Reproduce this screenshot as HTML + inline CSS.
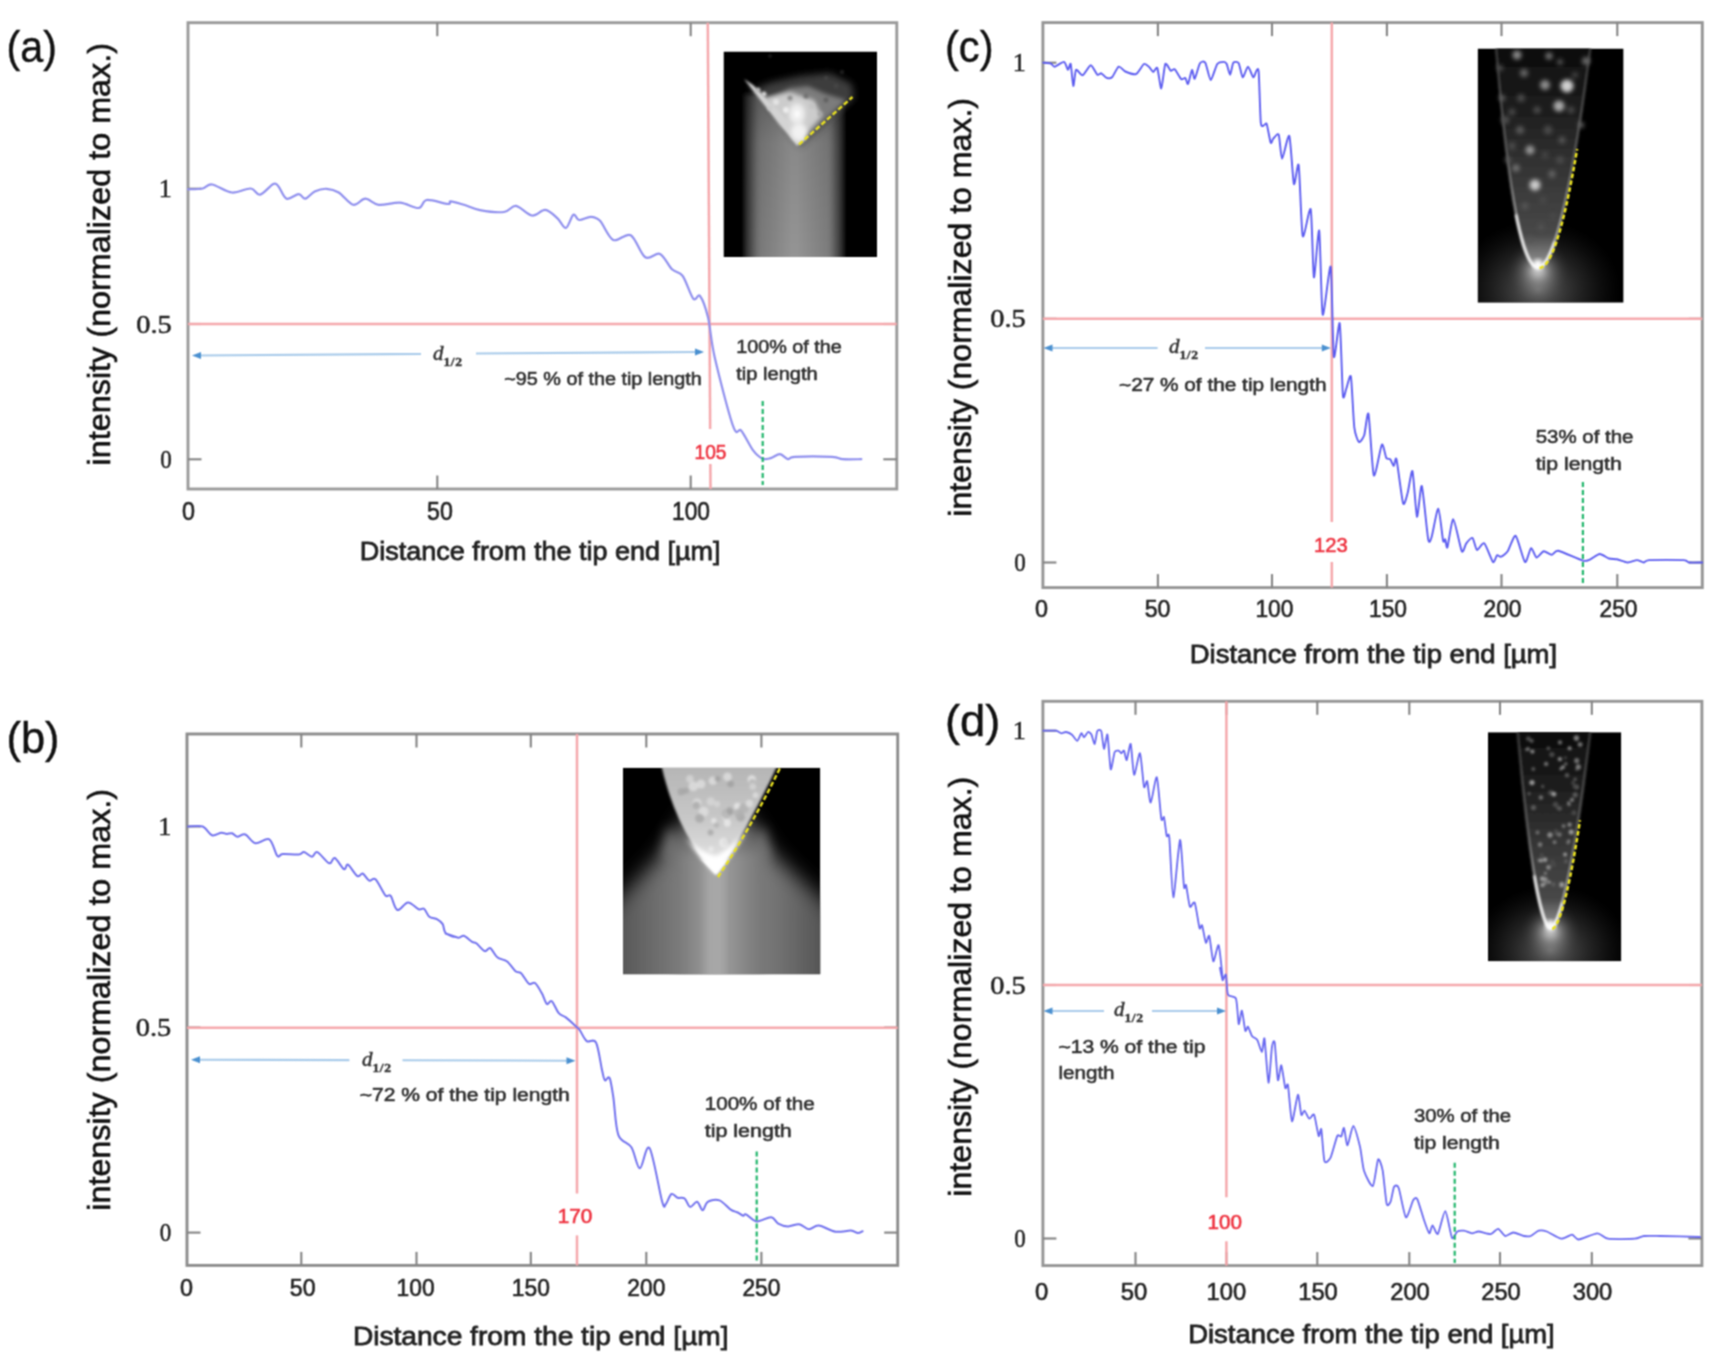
<!DOCTYPE html>
<html><head><meta charset="utf-8"><title>Figure</title>
<style>html,body{margin:0;padding:0;background:#fff}svg{display:block}</style></head><body>
<svg width="1725" height="1360" viewBox="0 0 1725 1360">
<defs>
<filter id="soft" x="0" y="0" width="1725" height="1360" filterUnits="userSpaceOnUse" color-interpolation-filters="sRGB"><feConvolveMatrix order="3" kernelMatrix="1 2 1 2 4 2 1 2 1" divisor="16" edgeMode="duplicate" preserveAlpha="false"/></filter>
<filter id="bs" x="-10%" y="-10%" width="120%" height="120%"><feGaussianBlur stdDeviation="1.3"/></filter>
<filter id="bs2" x="-10%" y="-10%" width="120%" height="120%"><feGaussianBlur stdDeviation="2.2"/></filter>
<filter id="b1" x="-20%" y="-20%" width="140%" height="140%"><feGaussianBlur stdDeviation="1"/></filter>
<filter id="b2" x="-20%" y="-20%" width="140%" height="140%"><feGaussianBlur stdDeviation="2"/></filter>
<filter id="b3" x="-30%" y="-30%" width="160%" height="160%"><feGaussianBlur stdDeviation="3.5"/></filter>
<filter id="b6" x="-30%" y="-30%" width="160%" height="160%"><feGaussianBlur stdDeviation="6"/></filter>
<filter id="b10" x="-40%" y="-40%" width="180%" height="180%"><feGaussianBlur stdDeviation="10"/></filter>
<clipPath id="clipA"><rect x="723.5" y="51.5" width="153.5" height="205.5"/></clipPath>
<clipPath id="clipB"><rect x="623" y="767.7" width="197.3" height="206.5"/></clipPath>
<clipPath id="clipC"><rect x="1477.6" y="48.5" width="146" height="254.2"/></clipPath>
<clipPath id="clipD"><rect x="1488" y="732.2" width="133.3" height="229.1"/></clipPath>
<linearGradient id="beamA" x1="0" x2="1" y1="0" y2="0"><stop offset="0" stop-color="#000"/><stop offset="0.06" stop-color="#3c3c3c"/><stop offset="0.16" stop-color="#787878"/><stop offset="0.5" stop-color="#969696"/><stop offset="0.84" stop-color="#7c7c7c"/><stop offset="0.94" stop-color="#3c3c3c"/><stop offset="1" stop-color="#000"/></linearGradient>
<linearGradient id="beamAv" x1="0" x2="0" y1="0" y2="1"><stop offset="0" stop-color="#000" stop-opacity="0.25"/><stop offset="0.3" stop-color="#000" stop-opacity="0.08"/><stop offset="1" stop-color="#000" stop-opacity="0"/></linearGradient>
<radialGradient id="glowA" cx="0.5" cy="0.5" r="0.5"><stop offset="0" stop-color="#fff" stop-opacity="1"/><stop offset="0.5" stop-color="#eee" stop-opacity="0.8"/><stop offset="1" stop-color="#ccc" stop-opacity="0"/></radialGradient>
<linearGradient id="beamB" x1="0" x2="1" y1="0" y2="0"><stop offset="0" stop-color="#747474"/><stop offset="0.25" stop-color="#8c8c8c"/><stop offset="0.47" stop-color="#a2a2a2"/><stop offset="0.7" stop-color="#8e8e8e"/><stop offset="1" stop-color="#747474"/></linearGradient>
<linearGradient id="wingB" x1="0" x2="1" y1="0" y2="0"><stop offset="0" stop-color="#4c4c4c"/><stop offset="0.3" stop-color="#787878"/><stop offset="0.7" stop-color="#787878"/><stop offset="1" stop-color="#484848"/></linearGradient>
<linearGradient id="tipB" x1="0" x2="0" y1="0" y2="1"><stop offset="0" stop-color="#b4b4b4"/><stop offset="0.5" stop-color="#c8c8c8"/><stop offset="0.85" stop-color="#e0e0e0"/><stop offset="1" stop-color="#fafafa"/></linearGradient>
<radialGradient id="glowC" cx="0.5" cy="0.5" r="0.5"><stop offset="0" stop-color="#fff" stop-opacity="0.95"/><stop offset="0.18" stop-color="#eee" stop-opacity="0.7"/><stop offset="0.45" stop-color="#bbb" stop-opacity="0.38"/><stop offset="0.75" stop-color="#999" stop-opacity="0.14"/><stop offset="1" stop-color="#777" stop-opacity="0"/></radialGradient>
<radialGradient id="glowW" cx="0.5" cy="0.5" r="0.5"><stop offset="0" stop-color="#999" stop-opacity="0.7"/><stop offset="0.3" stop-color="#777" stop-opacity="0.48"/><stop offset="0.65" stop-color="#555" stop-opacity="0.26"/><stop offset="1" stop-color="#333" stop-opacity="0"/></radialGradient>
<linearGradient id="tipC" x1="0" x2="0" y1="0" y2="1"><stop offset="0" stop-color="#0c0c0c"/><stop offset="0.3" stop-color="#1e1e1e"/><stop offset="0.55" stop-color="#343434"/><stop offset="0.85" stop-color="#484848"/><stop offset="1" stop-color="#999"/></linearGradient>
<linearGradient id="edgeC" x1="0" x2="0" y1="0" y2="1"><stop offset="0" stop-color="#4a4a4a"/><stop offset="0.5" stop-color="#777"/><stop offset="0.8" stop-color="#ccc"/><stop offset="1" stop-color="#fff"/></linearGradient>
</defs>

<rect width="1725" height="1360" fill="#fff"/>
<g filter="url(#soft)">
<g id="panel-a">
<rect x="188" y="22.7" width="708.8" height="466.3" fill="none" stroke="#9a9a9a" stroke-width="2.9"/>
<line x1="437.3" y1="489" x2="437.3" y2="475.5" stroke="#848484" stroke-width="2.1"/>
<line x1="437.3" y1="22.7" x2="437.3" y2="36.2" stroke="#848484" stroke-width="2.1"/>
<line x1="690.7" y1="489" x2="690.7" y2="475.5" stroke="#848484" stroke-width="2.1"/>
<line x1="690.7" y1="22.7" x2="690.7" y2="36.2" stroke="#848484" stroke-width="2.1"/>
<line x1="188" y1="188.7" x2="201.5" y2="188.7" stroke="#848484" stroke-width="2.1"/>
<line x1="188" y1="324" x2="201.5" y2="324" stroke="#848484" stroke-width="2.1"/>
<line x1="896.8" y1="324" x2="883.3" y2="324" stroke="#848484" stroke-width="2.1"/>
<line x1="188" y1="459.3" x2="201.5" y2="459.3" stroke="#848484" stroke-width="2.1"/>
<line x1="896.8" y1="459.3" x2="883.3" y2="459.3" stroke="#848484" stroke-width="2.1"/>
<line x1="188" y1="324" x2="896.8" y2="324" stroke="#f5a8ac" stroke-width="2.5"/>
<line x1="707.8" y1="22.7" x2="710.15" y2="429" stroke="#f5a8ac" stroke-width="2.5"/>
<line x1="710.36" y1="464" x2="710.5" y2="489" stroke="#f5a8ac" stroke-width="2.5"/>
<path d="M188.0,189.3 C190.4,189.2 198.9,189.3 202.7,188.5 C206.5,187.7 207.3,183.9 212.0,184.5 C216.7,185.1 225.8,191.9 232.0,192.5 C238.2,193.1 246.2,188.1 250.7,188.5 C255.2,188.9 256.4,195.4 260.0,194.7 C263.6,194.0 270.3,185.3 273.3,184.0 C276.3,182.7 276.6,184.3 278.7,186.7 C280.8,189.1 283.5,197.5 286.7,198.7 C289.9,199.9 295.7,194.1 298.7,194.1 C301.7,194.1 302.7,199.1 305.3,198.7 C307.9,198.3 311.3,193.1 314.7,191.5 C318.1,189.9 322.9,188.6 326.7,188.8 C330.5,189.0 334.4,189.9 338.7,192.5 C343.0,195.1 349.0,203.8 353.3,204.8 C357.6,205.8 361.2,198.7 365.3,198.7 C369.4,198.7 373.1,204.2 378.7,204.8 C384.3,205.4 393.6,202.2 400.0,202.7 C406.4,203.2 414.4,208.4 418.7,208.0 C423.0,207.6 422.0,200.6 426.7,200.0 C431.4,199.4 444.2,203.8 448.0,204.0 C451.8,204.2 448.1,201.2 450.7,201.3 C453.3,201.4 459.3,203.4 464.0,204.8 C468.7,206.2 473.6,208.9 480.0,210.1 C486.4,211.3 498.2,212.7 504.0,212.0 C509.8,211.3 511.5,205.3 516.0,205.9 C520.5,206.5 527.3,214.9 532.0,215.5 C536.7,216.1 541.3,209.5 545.3,209.9 C549.3,210.3 554.0,215.2 557.3,218.1 C560.6,221.0 563.3,228.5 565.9,228.0 C568.5,227.5 571.2,216.0 573.3,214.7 C575.4,213.4 576.4,219.7 579.2,220.0 C582.0,220.3 587.4,216.7 590.7,216.8 C594.0,216.9 596.4,217.1 600.0,220.8 C603.6,224.5 608.4,237.7 613.3,240.0 C618.2,242.3 625.6,232.4 630.7,235.2 C635.8,238.0 640.6,254.3 645.3,257.3 C650.0,260.3 655.7,252.0 660.0,253.9 C664.3,255.8 668.4,265.8 672.0,269.3 C675.6,272.8 679.3,271.3 682.7,276.0 C686.1,280.7 690.5,295.5 693.3,298.7 C696.1,301.9 697.6,293.0 700.0,296.0 C702.4,299.0 705.6,307.5 708.0,317.3 C710.4,327.1 710.7,339.8 714.7,357.3 C718.7,374.8 729.0,415.0 733.3,426.7 C737.6,438.4 738.1,426.9 741.3,430.7 C744.5,434.5 749.9,446.2 753.3,450.7 C756.7,455.2 759.9,457.5 762.7,458.7 C765.5,459.9 767.9,458.8 770.7,458.1 C773.5,457.4 777.2,453.9 780.0,454.1 C782.8,454.3 785.6,458.8 788.0,459.2 C790.4,459.6 787.7,457.2 794.7,456.8 C801.7,456.4 824.3,456.4 832.0,456.8 C839.7,457.2 838.0,458.8 842.7,459.2 C847.4,459.6 858.3,459.2 861.3,459.2" fill="none" stroke="#9090ee" stroke-width="2.2" stroke-linejoin="round" stroke-linecap="round"/>
<line x1="762.7" y1="401" x2="762.7" y2="485" stroke="#1fb56a" stroke-width="2.2" stroke-dasharray="5 3"/>
<line x1="198" y1="355.458984375" x2="421" y2="353.9345703125" stroke="#a9cbea" stroke-width="2.1"/>
<line x1="476" y1="353.55859375" x2="698" y2="352.041015625" stroke="#a9cbea" stroke-width="2.1"/>
<path d="M192,355.5 l9,-3.5 l0,7 z" fill="#4a90d0"/>
<path d="M704,352 l-9,-3.5 l0,7 z" fill="#4a90d0"/>
<text x="433" y="360" font-family='"Liberation Serif", serif' font-style="italic" font-size="21" fill="#333" stroke="#333" stroke-width="0.5">d<tspan font-size="13.5" dy="6" font-style="normal" font-weight="bold" letter-spacing="0.6">1/2</tspan></text>
<text x="181.9" y="520" font-family='"Liberation Sans", sans-serif' font-size="26" fill="#222" text-anchor="start" textLength="13" lengthAdjust="spacingAndGlyphs" stroke="#222" stroke-width="0.6">0</text>
<text x="427.1" y="520" font-family='"Liberation Sans", sans-serif' font-size="26" fill="#222" text-anchor="start" textLength="25.8" lengthAdjust="spacingAndGlyphs" stroke="#222" stroke-width="0.6">50</text>
<text x="672.0" y="520" font-family='"Liberation Sans", sans-serif' font-size="26" fill="#222" text-anchor="start" textLength="38" lengthAdjust="spacingAndGlyphs" stroke="#222" stroke-width="0.6">100</text>
<text x="158.8" y="197.29999999999998" font-family='"Liberation Serif", serif' font-size="26" fill="#222" text-anchor="start" textLength="13" lengthAdjust="spacingAndGlyphs" stroke="#222" stroke-width="0.5">1</text>
<text x="136.3" y="332.6" font-family='"Liberation Serif", serif' font-size="26" fill="#222" text-anchor="start" textLength="35.5" lengthAdjust="spacingAndGlyphs" stroke="#222" stroke-width="0.5">0.5</text>
<text x="160.3" y="467.90000000000003" font-family='"Liberation Serif", serif' font-size="26" fill="#222" text-anchor="start" textLength="11.5" lengthAdjust="spacingAndGlyphs" stroke="#222" stroke-width="0.5">0</text>
<text x="359.8" y="560" font-family='"Liberation Sans", sans-serif' font-size="26.5" fill="#222" text-anchor="start" textLength="360.8" lengthAdjust="spacingAndGlyphs" stroke="#222" stroke-width="0.8">Distance from the tip end [µm]</text>
<text transform="translate(110,465.4) rotate(-90)" font-family='"Liberation Sans", sans-serif' font-size="32" fill="#111" stroke="#111" stroke-width="0.6" textLength="422.4" lengthAdjust="spacingAndGlyphs">intensity (normalized to max.)</text>
<text x="6.5" y="62.3" font-family='"Liberation Sans", sans-serif' font-size="44" fill="#111" text-anchor="start" textLength="50.5" lengthAdjust="spacingAndGlyphs" stroke="#111" stroke-width="0.4">(a)</text>
<text x="694.5" y="458.5" font-family='"Liberation Sans", sans-serif' font-size="19.8" fill="#ee3340" text-anchor="start" textLength="31.9" lengthAdjust="spacingAndGlyphs" stroke="#ee3340" stroke-width="0.6">105</text>
<text x="504.2" y="385" font-family='"Liberation Sans", sans-serif' font-size="17.5" fill="#303030" text-anchor="start" textLength="197.6" lengthAdjust="spacingAndGlyphs" stroke="#303030" stroke-width="0.55">~95 % of the tip length</text>
<text x="736.2" y="353" font-family='"Liberation Sans", sans-serif' font-size="17.5" fill="#303030" text-anchor="start" textLength="105.6" lengthAdjust="spacingAndGlyphs" stroke="#303030" stroke-width="0.55">100% of the</text>
<text x="736.2" y="380" font-family='"Liberation Sans", sans-serif' font-size="17.5" fill="#303030" text-anchor="start" textLength="81.6" lengthAdjust="spacingAndGlyphs" stroke="#303030" stroke-width="0.55">tip length</text>
</g>
<g id="panel-b">
<rect x="187" y="734" width="710.7" height="531.4000000000001" fill="none" stroke="#8c8c8c" stroke-width="2.9"/>
<line x1="301.3" y1="1265.4" x2="301.3" y2="1251.9" stroke="#848484" stroke-width="2.1"/>
<line x1="301.3" y1="734" x2="301.3" y2="747.5" stroke="#848484" stroke-width="2.1"/>
<line x1="416.5" y1="1265.4" x2="416.5" y2="1251.9" stroke="#848484" stroke-width="2.1"/>
<line x1="416.5" y1="734" x2="416.5" y2="747.5" stroke="#848484" stroke-width="2.1"/>
<line x1="530.8" y1="1265.4" x2="530.8" y2="1251.9" stroke="#848484" stroke-width="2.1"/>
<line x1="530.8" y1="734" x2="530.8" y2="747.5" stroke="#848484" stroke-width="2.1"/>
<line x1="646.3" y1="1265.4" x2="646.3" y2="1251.9" stroke="#848484" stroke-width="2.1"/>
<line x1="646.3" y1="734" x2="646.3" y2="747.5" stroke="#848484" stroke-width="2.1"/>
<line x1="761.4" y1="1265.4" x2="761.4" y2="1251.9" stroke="#848484" stroke-width="2.1"/>
<line x1="761.4" y1="734" x2="761.4" y2="747.5" stroke="#848484" stroke-width="2.1"/>
<line x1="187" y1="826.5" x2="200.5" y2="826.5" stroke="#848484" stroke-width="2.1"/>
<line x1="187" y1="1027.5" x2="200.5" y2="1027.5" stroke="#848484" stroke-width="2.1"/>
<line x1="897.7" y1="1027.5" x2="884.2" y2="1027.5" stroke="#848484" stroke-width="2.1"/>
<line x1="187" y1="1232.6" x2="200.5" y2="1232.6" stroke="#848484" stroke-width="2.1"/>
<line x1="897.7" y1="1232.6" x2="884.2" y2="1232.6" stroke="#848484" stroke-width="2.1"/>
<line x1="187" y1="1027.7" x2="897.7" y2="1027.7" stroke="#f5a8ac" stroke-width="2.5"/>
<line x1="577.0" y1="734" x2="577.0" y2="1193.5" stroke="#f5a8ac" stroke-width="2.5"/>
<line x1="577.0" y1="1235.4" x2="577.0" y2="1265.4" stroke="#f5a8ac" stroke-width="2.5"/>
<path d="M188.0,826.5 C190.4,826.5 198.9,825.1 202.7,826.5 C206.5,827.9 209.0,834.3 212.0,835.3 C215.0,836.3 218.9,832.9 221.3,832.7 C223.7,832.5 225.0,833.9 226.7,834.0 C228.4,834.1 230.3,832.8 232.0,833.2 C233.7,833.6 235.2,836.5 237.3,836.7 C239.4,836.9 242.4,833.4 245.3,834.5 C248.2,835.6 251.7,842.5 255.5,843.3 C259.3,844.1 265.8,837.3 269.3,839.3 C272.8,841.3 275.2,853.5 277.3,855.9 C279.4,858.3 279.3,854.2 282.7,854.0 C286.1,853.8 295.3,854.8 298.7,854.5 C302.1,854.2 301.9,851.7 304.0,852.1 C306.1,852.5 309.9,856.7 312.0,856.7 C314.1,856.7 314.5,851.0 317.3,852.1 C320.1,853.2 326.5,862.4 329.3,863.3 C332.1,864.2 332.3,857.1 334.7,858.0 C337.1,858.9 341.9,868.1 344.0,869.2 C346.1,870.3 345.9,863.6 348.0,864.7 C350.1,865.8 354.9,874.7 357.3,876.1 C359.7,877.5 360.8,872.8 362.7,873.5 C364.6,874.2 367.3,879.8 369.3,880.7 C371.3,881.6 372.9,877.0 375.5,879.3 C378.1,881.6 382.9,892.6 385.3,895.3 C387.7,898.0 388.8,893.5 390.7,895.9 C392.6,898.3 394.5,908.9 397.3,910.0 C400.1,911.1 404.6,902.6 408.0,902.5 C411.4,902.4 416.1,908.2 418.7,909.2 C421.3,910.2 422.3,907.5 424.0,908.7 C425.7,909.9 427.2,915.0 429.3,916.7 C431.4,918.4 435.2,918.1 437.3,919.3 C439.4,920.5 441.4,922.0 442.7,924.1 C444.0,926.2 443.6,930.7 445.3,932.7 C447.0,934.7 453.3,936.6 453.3,936.7 C453.3,936.8 444.8,933.3 445.6,933.5 C446.4,933.7 455.3,937.3 458.2,937.7 C461.1,938.1 461.6,935.1 463.8,935.8 C466.0,936.5 470.1,940.7 472.1,941.9 C474.1,943.1 474.3,941.8 476.3,943.3 C478.3,944.8 482.5,950.3 484.7,951.1 C486.9,951.9 488.3,947.1 490.3,948.1 C492.3,949.1 494.6,955.2 497.3,957.3 C500.0,959.4 504.2,959.3 507.1,961.5 C510.0,963.7 513.3,969.4 515.5,971.3 C517.7,973.2 519.0,971.2 521.1,973.2 C523.2,975.2 526.7,982.2 528.9,983.8 C531.1,985.4 532.9,981.4 535.0,983.0 C537.1,984.6 540.1,990.2 542.0,993.6 C543.9,997.0 545.2,1002.8 546.8,1004.0 C548.4,1005.2 549.9,999.7 551.8,1001.2 C553.7,1002.7 556.6,1010.6 558.8,1013.2 C561.0,1015.8 562.9,1015.2 565.8,1017.4 C568.7,1019.6 574.7,1025.2 576.9,1027.2 C579.1,1029.2 578.1,1027.8 579.7,1030.0 C581.3,1032.2 584.1,1039.1 586.7,1041.1 C589.3,1043.1 593.5,1037.8 596.0,1042.5 C598.5,1047.2 600.7,1064.5 602.1,1070.5 C603.5,1076.5 603.7,1079.1 604.9,1080.3 C606.1,1081.5 608.3,1075.3 609.6,1078.0 C610.9,1080.7 611.9,1087.9 613.3,1097.0 C614.7,1106.1 615.4,1126.8 618.3,1134.8 C621.2,1142.8 628.0,1141.9 631.4,1147.3 C634.8,1152.7 636.9,1168.2 639.8,1168.3 C642.7,1168.4 646.0,1142.8 649.6,1148.2 C653.2,1153.6 659.6,1192.9 662.2,1201.8 C664.8,1210.7 664.3,1205.3 665.8,1204.1 C667.3,1202.9 669.5,1195.0 671.4,1194.0 C673.3,1193.0 675.5,1197.0 677.6,1197.7 C679.7,1198.4 682.6,1197.0 684.6,1198.5 C686.6,1200.0 688.1,1206.4 690.1,1206.9 C692.1,1207.4 695.1,1201.3 697.1,1201.8 C699.1,1202.3 701.0,1210.2 702.7,1210.2 C704.4,1210.2 705.0,1203.4 707.7,1201.8 C710.4,1200.2 715.8,1199.1 719.5,1200.4 C723.2,1201.7 727.8,1207.8 730.7,1209.7 C733.6,1211.6 735.7,1211.5 737.7,1212.5 C739.7,1213.5 741.9,1215.5 743.2,1215.8 C744.5,1216.1 743.8,1213.5 746.0,1214.4 C748.2,1215.3 752.7,1221.0 756.7,1221.4 C760.7,1221.8 767.8,1216.8 771.2,1217.2 C774.6,1217.6 775.5,1222.1 778.2,1223.6 C780.9,1225.1 784.7,1226.3 788.0,1226.4 C791.3,1226.5 795.8,1223.8 799.1,1224.2 C802.4,1224.6 805.8,1229.0 808.9,1229.2 C812.0,1229.4 814.4,1225.2 818.7,1225.6 C823.0,1226.0 830.4,1230.9 835.5,1231.7 C840.6,1232.5 847.2,1230.4 850.8,1230.6 C854.4,1230.8 855.9,1233.0 857.8,1233.1 C859.7,1233.2 861.8,1231.5 862.6,1231.2" fill="none" stroke="#7272ee" stroke-width="2.0" stroke-linejoin="round" stroke-linecap="round"/>
<line x1="756.7" y1="1151.5" x2="756.7" y2="1263" stroke="#1fb56a" stroke-width="2.2" stroke-dasharray="5 3"/>
<line x1="197" y1="1059.7156046814046" x2="349.4" y2="1060.1119635890768" stroke="#a9cbea" stroke-width="2.1"/>
<line x1="402.5" y1="1060.2500650195059" x2="569.5" y2="1060.6843953185955" stroke="#a9cbea" stroke-width="2.1"/>
<path d="M191,1059.7 l9,-3.5 l0,7 z" fill="#4a90d0"/>
<path d="M575.5,1060.7 l-9,-3.5 l0,7 z" fill="#4a90d0"/>
<text x="362" y="1066" font-family='"Liberation Serif", serif' font-style="italic" font-size="21" fill="#333" stroke="#333" stroke-width="0.5">d<tspan font-size="13.5" dy="6" font-style="normal" font-weight="bold" letter-spacing="0.6">1/2</tspan></text>
<text x="179.9" y="1296.3" font-family='"Liberation Sans", sans-serif' font-size="24" fill="#222" text-anchor="start" textLength="13" lengthAdjust="spacingAndGlyphs" stroke="#222" stroke-width="0.6">0</text>
<text x="289.8" y="1296.3" font-family='"Liberation Sans", sans-serif' font-size="24" fill="#222" text-anchor="start" textLength="25.8" lengthAdjust="spacingAndGlyphs" stroke="#222" stroke-width="0.6">50</text>
<text x="396.6" y="1296.3" font-family='"Liberation Sans", sans-serif' font-size="24" fill="#222" text-anchor="start" textLength="38" lengthAdjust="spacingAndGlyphs" stroke="#222" stroke-width="0.6">100</text>
<text x="511.8" y="1296.3" font-family='"Liberation Sans", sans-serif' font-size="24" fill="#222" text-anchor="start" textLength="38" lengthAdjust="spacingAndGlyphs" stroke="#222" stroke-width="0.6">150</text>
<text x="627.3" y="1296.3" font-family='"Liberation Sans", sans-serif' font-size="24" fill="#222" text-anchor="start" textLength="38" lengthAdjust="spacingAndGlyphs" stroke="#222" stroke-width="0.6">200</text>
<text x="742.4" y="1296.3" font-family='"Liberation Sans", sans-serif' font-size="24" fill="#222" text-anchor="start" textLength="38" lengthAdjust="spacingAndGlyphs" stroke="#222" stroke-width="0.6">250</text>
<text x="158.3" y="835.1" font-family='"Liberation Serif", serif' font-size="26" fill="#222" text-anchor="start" textLength="13" lengthAdjust="spacingAndGlyphs" stroke="#222" stroke-width="0.5">1</text>
<text x="135.8" y="1036.1" font-family='"Liberation Serif", serif' font-size="26" fill="#222" text-anchor="start" textLength="35.5" lengthAdjust="spacingAndGlyphs" stroke="#222" stroke-width="0.5">0.5</text>
<text x="159.8" y="1241.1999999999998" font-family='"Liberation Serif", serif' font-size="26" fill="#222" text-anchor="start" textLength="11.5" lengthAdjust="spacingAndGlyphs" stroke="#222" stroke-width="0.5">0</text>
<text x="352.9" y="1345" font-family='"Liberation Sans", sans-serif' font-size="26.5" fill="#222" text-anchor="start" textLength="375.7" lengthAdjust="spacingAndGlyphs" stroke="#222" stroke-width="0.8">Distance from the tip end [µm]</text>
<text transform="translate(110,1210.7) rotate(-90)" font-family='"Liberation Sans", sans-serif' font-size="32" fill="#111" stroke="#111" stroke-width="0.6" textLength="421.70000000000005" lengthAdjust="spacingAndGlyphs">intensity (normalized to max.)</text>
<text x="6.5" y="752.6" font-family='"Liberation Sans", sans-serif' font-size="44" fill="#111" text-anchor="start" textLength="53.0" lengthAdjust="spacingAndGlyphs" stroke="#111" stroke-width="0.4">(b)</text>
<text x="557.8" y="1223.3" font-family='"Liberation Sans", sans-serif' font-size="19.8" fill="#ee3340" text-anchor="start" textLength="34.6" lengthAdjust="spacingAndGlyphs" stroke="#ee3340" stroke-width="0.6">170</text>
<text x="359.7" y="1101.3" font-family='"Liberation Sans", sans-serif' font-size="17.5" fill="#303030" text-anchor="start" textLength="210.1" lengthAdjust="spacingAndGlyphs" stroke="#303030" stroke-width="0.55">~72 % of the tip length</text>
<text x="704.7" y="1109.6" font-family='"Liberation Sans", sans-serif' font-size="17.5" fill="#303030" text-anchor="start" textLength="110.1" lengthAdjust="spacingAndGlyphs" stroke="#303030" stroke-width="0.55">100% of the</text>
<text x="704.7" y="1137" font-family='"Liberation Sans", sans-serif' font-size="17.5" fill="#303030" text-anchor="start" textLength="87.1" lengthAdjust="spacingAndGlyphs" stroke="#303030" stroke-width="0.55">tip length</text>
</g>
<g id="panel-c">
<rect x="1042.9" y="22.6" width="659.3999999999999" height="565.0" fill="none" stroke="#959595" stroke-width="2.9"/>
<line x1="1157.9" y1="587.6" x2="1157.9" y2="574.1" stroke="#848484" stroke-width="2.1"/>
<line x1="1157.9" y1="22.6" x2="1157.9" y2="36.1" stroke="#848484" stroke-width="2.1"/>
<line x1="1272" y1="587.6" x2="1272" y2="574.1" stroke="#848484" stroke-width="2.1"/>
<line x1="1272" y1="22.6" x2="1272" y2="36.1" stroke="#848484" stroke-width="2.1"/>
<line x1="1386.9" y1="587.6" x2="1386.9" y2="574.1" stroke="#848484" stroke-width="2.1"/>
<line x1="1386.9" y1="22.6" x2="1386.9" y2="36.1" stroke="#848484" stroke-width="2.1"/>
<line x1="1501.5" y1="587.6" x2="1501.5" y2="574.1" stroke="#848484" stroke-width="2.1"/>
<line x1="1501.5" y1="22.6" x2="1501.5" y2="36.1" stroke="#848484" stroke-width="2.1"/>
<line x1="1617.3" y1="587.6" x2="1617.3" y2="574.1" stroke="#848484" stroke-width="2.1"/>
<line x1="1617.3" y1="22.6" x2="1617.3" y2="36.1" stroke="#848484" stroke-width="2.1"/>
<line x1="1042.9" y1="62.7" x2="1056.4" y2="62.7" stroke="#848484" stroke-width="2.1"/>
<line x1="1042.9" y1="318.8" x2="1056.4" y2="318.8" stroke="#848484" stroke-width="2.1"/>
<line x1="1702.3" y1="318.8" x2="1688.8" y2="318.8" stroke="#848484" stroke-width="2.1"/>
<line x1="1042.9" y1="562.5" x2="1056.4" y2="562.5" stroke="#848484" stroke-width="2.1"/>
<line x1="1702.3" y1="562.5" x2="1688.8" y2="562.5" stroke="#848484" stroke-width="2.1"/>
<line x1="1042.9" y1="318.8" x2="1702.3" y2="318.8" stroke="#f5a8ac" stroke-width="2.5"/>
<line x1="1331.8" y1="22.6" x2="1331.8" y2="522" stroke="#f5a8ac" stroke-width="2.5"/>
<line x1="1331.8" y1="562" x2="1331.8" y2="587.6" stroke="#f5a8ac" stroke-width="2.5"/>
<path d="M1043.2,62.7 C1044.0,62.8 1049.4,63.1 1050.7,63.5 C1052.0,63.9 1053.2,66.9 1054.7,66.7 C1056.2,66.5 1062.5,61.5 1064.0,61.9 C1065.5,62.3 1067.3,69.7 1068.0,69.9 C1068.7,70.1 1070.1,62.2 1070.7,64.0 C1071.3,65.8 1072.7,85.3 1073.3,85.9 C1073.9,86.5 1075.0,71.1 1076.0,69.9 C1077.0,68.7 1081.1,75.7 1082.7,75.2 C1084.3,74.7 1089.1,65.4 1090.7,65.3 C1092.3,65.2 1096.1,73.8 1097.3,74.7 C1098.5,75.6 1100.3,72.9 1101.3,73.3 C1102.3,73.7 1105.5,77.5 1106.7,77.9 C1107.9,78.3 1110.7,78.5 1112.0,77.3 C1113.3,76.1 1117.2,67.3 1118.7,66.7 C1120.2,66.1 1123.4,70.7 1125.3,71.5 C1127.2,72.3 1133.9,74.9 1136.0,74.1 C1138.1,73.3 1142.5,64.8 1144.0,64.0 C1145.5,63.2 1148.3,66.3 1149.3,67.2 C1150.3,68.1 1152.4,71.9 1153.3,72.0 C1154.2,72.1 1156.4,66.2 1157.3,68.0 C1158.2,69.8 1160.4,88.9 1161.3,88.5 C1162.2,88.1 1164.3,66.0 1165.3,64.0 C1166.3,62.0 1169.7,70.1 1170.7,70.7 C1171.7,71.3 1173.5,68.4 1174.7,69.3 C1175.9,70.2 1180.1,78.3 1181.3,79.2 C1182.5,80.1 1184.6,77.4 1185.3,77.9 C1186.0,78.4 1187.3,84.9 1188.0,84.0 C1188.7,83.1 1191.3,70.5 1192.0,69.9 C1192.7,69.3 1193.8,79.4 1194.7,78.7 C1195.6,78.0 1198.8,65.0 1200.0,63.2 C1201.2,61.4 1204.1,60.9 1205.3,62.7 C1206.5,64.5 1209.4,79.9 1210.7,80.0 C1212.0,80.1 1215.8,66.0 1217.3,64.0 C1218.8,62.0 1223.0,61.9 1224.0,61.9 C1225.0,61.9 1226.0,62.6 1226.7,64.0 C1227.4,65.4 1229.4,74.8 1230.1,74.7 C1230.8,74.6 1232.4,64.0 1233.3,62.7 C1234.2,61.4 1237.7,61.6 1238.7,63.2 C1239.7,64.8 1241.7,76.9 1242.7,77.3 C1243.7,77.7 1246.8,66.7 1248.0,66.7 C1249.2,66.7 1252.4,76.9 1253.3,77.3 C1254.2,77.7 1255.9,71.3 1256.5,70.7 C1257.1,70.1 1258.2,66.3 1258.7,72.0 C1259.2,77.7 1260.2,116.8 1260.8,122.7 C1261.4,128.6 1263.4,125.2 1264.0,125.3 C1264.6,125.4 1266.0,122.1 1266.7,124.0 C1267.4,125.9 1270.0,141.1 1270.7,142.7 C1271.4,144.3 1272.4,139.6 1273.3,138.7 C1274.2,137.8 1277.7,132.5 1278.7,134.7 C1279.7,136.9 1280.9,158.6 1282.1,158.7 C1283.3,158.8 1288.0,133.2 1289.3,136.0 C1290.6,138.8 1292.9,180.8 1293.9,184.0 C1294.9,187.2 1297.7,159.6 1298.7,165.3 C1299.7,171.0 1301.4,231.2 1302.7,236.0 C1304.0,240.8 1309.5,204.8 1310.7,209.3 C1311.9,213.8 1313.0,274.9 1313.9,277.3 C1314.8,279.7 1318.2,226.6 1319.2,230.7 C1320.2,234.8 1321.4,310.7 1322.7,314.7 C1324.0,318.7 1329.5,262.1 1330.7,266.7 C1331.9,271.3 1332.8,350.5 1333.8,356.7 C1334.8,362.9 1338.7,319.1 1339.7,323.3 C1340.7,327.5 1342.2,388.1 1342.9,395.3 C1343.6,402.5 1345.4,390.7 1346.3,388.7 C1347.2,386.7 1350.0,372.5 1350.9,376.7 C1351.8,380.9 1353.4,420.1 1354.3,427.3 C1355.2,434.5 1357.8,441.1 1358.9,442.0 C1360.0,442.9 1363.1,438.4 1364.2,435.3 C1365.3,432.2 1367.4,409.6 1368.5,414.0 C1369.6,418.4 1372.3,471.9 1373.8,475.3 C1375.3,478.7 1380.4,446.6 1381.8,444.7 C1383.2,442.8 1385.4,456.4 1386.3,458.0 C1387.2,459.6 1389.5,458.4 1390.3,459.3 C1391.1,460.2 1393.1,466.0 1393.8,466.0 C1394.5,466.0 1395.5,455.2 1396.5,459.3 C1397.5,463.4 1401.9,499.6 1403.1,503.3 C1404.3,507.0 1406.7,496.2 1407.7,492.7 C1408.7,489.2 1411.5,468.7 1412.5,471.3 C1413.5,473.9 1416.0,515.1 1417.0,516.7 C1418.0,518.3 1420.6,483.5 1421.8,486.0 C1423.0,488.5 1427.1,533.7 1428.2,539.3 C1429.3,544.9 1430.6,540.1 1431.7,536.7 C1432.8,533.3 1437.0,508.3 1438.3,508.7 C1439.6,509.1 1442.3,537.3 1443.1,540.7 C1443.9,544.1 1444.8,538.6 1445.3,539.3 C1445.8,540.0 1446.5,549.5 1447.4,547.3 C1448.3,545.1 1451.7,518.9 1453.3,519.3 C1454.9,519.7 1460.4,548.7 1461.8,551.3 C1463.2,553.9 1465.1,544.8 1466.3,543.3 C1467.5,541.8 1471.3,537.3 1472.5,538.0 C1473.7,538.7 1475.7,549.4 1477.0,550.0 C1478.3,550.6 1482.4,542.0 1484.2,543.3 C1486.0,544.6 1491.6,560.7 1493.0,562.0 C1494.4,563.3 1496.1,555.9 1497.0,555.3 C1497.9,554.7 1499.8,557.1 1501.0,556.7 C1502.2,556.3 1506.1,553.6 1507.7,551.3 C1509.3,549.0 1513.8,534.7 1515.7,535.9 C1517.6,537.1 1523.3,560.7 1525.0,562.0 C1526.7,563.3 1529.8,548.6 1531.1,548.1 C1532.4,547.6 1535.1,557.1 1536.5,557.5 C1537.9,557.9 1542.0,551.6 1543.7,551.3 C1545.4,551.0 1550.1,554.9 1551.7,554.8 C1553.3,554.7 1554.9,550.2 1558.3,550.8 C1561.7,551.4 1579.4,559.8 1582.9,560.7 C1586.4,561.6 1588.5,560.0 1590.3,559.3 C1592.1,558.6 1597.6,554.1 1599.7,554.0 C1601.8,553.9 1607.1,557.9 1609.0,558.5 C1610.9,559.1 1614.9,558.9 1617.0,559.3 C1619.1,559.7 1625.5,562.4 1627.7,562.5 C1629.9,562.6 1635.2,560.1 1637.0,560.1 C1638.8,560.1 1642.4,562.5 1643.7,562.5 C1645.0,562.5 1644.6,560.4 1649.0,560.1 C1653.4,559.8 1679.3,559.8 1683.7,560.1 C1688.1,560.4 1687.0,562.2 1689.0,562.5 C1691.0,562.8 1700.8,562.5 1702.3,562.5" fill="none" stroke="#5c5cf0" stroke-width="1.9" stroke-linejoin="round" stroke-linecap="round"/>
<line x1="1582.9" y1="482" x2="1582.9" y2="586" stroke="#1fb56a" stroke-width="2.2" stroke-dasharray="5 3"/>
<line x1="1049.5" y1="348.0" x2="1157.6" y2="348.0" stroke="#a9cbea" stroke-width="2.1"/>
<line x1="1205" y1="348.0" x2="1324.8" y2="348.0" stroke="#a9cbea" stroke-width="2.1"/>
<path d="M1043.5,348 l9,-3.5 l0,7 z" fill="#4a90d0"/>
<path d="M1330.8,348 l-9,-3.5 l0,7 z" fill="#4a90d0"/>
<text x="1169" y="353" font-family='"Liberation Serif", serif' font-style="italic" font-size="21" fill="#333" stroke="#333" stroke-width="0.5">d<tspan font-size="13.5" dy="6" font-style="normal" font-weight="bold" letter-spacing="0.6">1/2</tspan></text>
<text x="1035.1" y="616.8" font-family='"Liberation Sans", sans-serif' font-size="24.5" fill="#222" text-anchor="start" textLength="13" lengthAdjust="spacingAndGlyphs" stroke="#222" stroke-width="0.6">0</text>
<text x="1144.7" y="616.8" font-family='"Liberation Sans", sans-serif' font-size="24.5" fill="#222" text-anchor="start" textLength="25.8" lengthAdjust="spacingAndGlyphs" stroke="#222" stroke-width="0.6">50</text>
<text x="1255.4" y="616.8" font-family='"Liberation Sans", sans-serif' font-size="24.5" fill="#222" text-anchor="start" textLength="38" lengthAdjust="spacingAndGlyphs" stroke="#222" stroke-width="0.6">100</text>
<text x="1369.0" y="616.8" font-family='"Liberation Sans", sans-serif' font-size="24.5" fill="#222" text-anchor="start" textLength="38" lengthAdjust="spacingAndGlyphs" stroke="#222" stroke-width="0.6">150</text>
<text x="1483.5" y="616.8" font-family='"Liberation Sans", sans-serif' font-size="24.5" fill="#222" text-anchor="start" textLength="38" lengthAdjust="spacingAndGlyphs" stroke="#222" stroke-width="0.6">200</text>
<text x="1599.5" y="616.8" font-family='"Liberation Sans", sans-serif' font-size="24.5" fill="#222" text-anchor="start" textLength="38" lengthAdjust="spacingAndGlyphs" stroke="#222" stroke-width="0.6">250</text>
<text x="1012.8" y="71.3" font-family='"Liberation Serif", serif' font-size="26" fill="#222" text-anchor="start" textLength="13" lengthAdjust="spacingAndGlyphs" stroke="#222" stroke-width="0.5">1</text>
<text x="990.3" y="327.40000000000003" font-family='"Liberation Serif", serif' font-size="26" fill="#222" text-anchor="start" textLength="35.5" lengthAdjust="spacingAndGlyphs" stroke="#222" stroke-width="0.5">0.5</text>
<text x="1014.3" y="571.1" font-family='"Liberation Serif", serif' font-size="26" fill="#222" text-anchor="start" textLength="11.5" lengthAdjust="spacingAndGlyphs" stroke="#222" stroke-width="0.5">0</text>
<text x="1189.7" y="662.5" font-family='"Liberation Sans", sans-serif' font-size="26.5" fill="#222" text-anchor="start" textLength="367.5" lengthAdjust="spacingAndGlyphs" stroke="#222" stroke-width="0.8">Distance from the tip end [µm]</text>
<text transform="translate(970.7,516.7) rotate(-90)" font-family='"Liberation Sans", sans-serif' font-size="32" fill="#111" stroke="#111" stroke-width="0.6" textLength="418.70000000000005" lengthAdjust="spacingAndGlyphs">intensity (normalized to max.)</text>
<text x="945" y="62.3" font-family='"Liberation Sans", sans-serif' font-size="44" fill="#111" text-anchor="start" textLength="48.5" lengthAdjust="spacingAndGlyphs" stroke="#111" stroke-width="0.4">(c)</text>
<text x="1314" y="551.8" font-family='"Liberation Sans", sans-serif' font-size="19.8" fill="#ee3340" text-anchor="start" textLength="33.7" lengthAdjust="spacingAndGlyphs" stroke="#ee3340" stroke-width="0.6">123</text>
<text x="1119.0" y="390.8" font-family='"Liberation Sans", sans-serif' font-size="17.5" fill="#303030" text-anchor="start" textLength="207.5" lengthAdjust="spacingAndGlyphs" stroke="#303030" stroke-width="0.55">~27 % of the tip length</text>
<text x="1535.7" y="442.8" font-family='"Liberation Sans", sans-serif' font-size="17.5" fill="#303030" text-anchor="start" textLength="97.8" lengthAdjust="spacingAndGlyphs" stroke="#303030" stroke-width="0.55">53% of the</text>
<text x="1535.7" y="470" font-family='"Liberation Sans", sans-serif' font-size="17.5" fill="#303030" text-anchor="start" textLength="86.1" lengthAdjust="spacingAndGlyphs" stroke="#303030" stroke-width="0.55">tip length</text>
</g>
<g id="panel-d">
<rect x="1042.9" y="701.3" width="659.0" height="564.3" fill="none" stroke="#959595" stroke-width="2.9"/>
<line x1="1135.5" y1="1265.6" x2="1135.5" y2="1252.1" stroke="#848484" stroke-width="2.1"/>
<line x1="1135.5" y1="701.3" x2="1135.5" y2="714.8" stroke="#848484" stroke-width="2.1"/>
<line x1="1226.4" y1="1265.6" x2="1226.4" y2="1252.1" stroke="#848484" stroke-width="2.1"/>
<line x1="1226.4" y1="701.3" x2="1226.4" y2="714.8" stroke="#848484" stroke-width="2.1"/>
<line x1="1317.3" y1="1265.6" x2="1317.3" y2="1252.1" stroke="#848484" stroke-width="2.1"/>
<line x1="1317.3" y1="701.3" x2="1317.3" y2="714.8" stroke="#848484" stroke-width="2.1"/>
<line x1="1409.3" y1="1265.6" x2="1409.3" y2="1252.1" stroke="#848484" stroke-width="2.1"/>
<line x1="1409.3" y1="701.3" x2="1409.3" y2="714.8" stroke="#848484" stroke-width="2.1"/>
<line x1="1500" y1="1265.6" x2="1500" y2="1252.1" stroke="#848484" stroke-width="2.1"/>
<line x1="1500" y1="701.3" x2="1500" y2="714.8" stroke="#848484" stroke-width="2.1"/>
<line x1="1591.8" y1="1265.6" x2="1591.8" y2="1252.1" stroke="#848484" stroke-width="2.1"/>
<line x1="1591.8" y1="701.3" x2="1591.8" y2="714.8" stroke="#848484" stroke-width="2.1"/>
<line x1="1042.9" y1="730.7" x2="1056.4" y2="730.7" stroke="#848484" stroke-width="2.1"/>
<line x1="1042.9" y1="985" x2="1056.4" y2="985" stroke="#848484" stroke-width="2.1"/>
<line x1="1701.9" y1="985" x2="1688.4" y2="985" stroke="#848484" stroke-width="2.1"/>
<line x1="1042.9" y1="1238.5" x2="1056.4" y2="1238.5" stroke="#848484" stroke-width="2.1"/>
<line x1="1701.9" y1="1238.5" x2="1688.4" y2="1238.5" stroke="#848484" stroke-width="2.1"/>
<line x1="1042.9" y1="985" x2="1701.9" y2="985" stroke="#f5a8ac" stroke-width="2.5"/>
<line x1="1226.4" y1="701.3" x2="1226.4" y2="1197.3" stroke="#f5a8ac" stroke-width="2.5"/>
<line x1="1226.4" y1="1241.3" x2="1226.4" y2="1265.6" stroke="#f5a8ac" stroke-width="2.5"/>
<path d="M1043.2,730.7 C1044.6,730.7 1054.0,730.4 1056.0,730.7 C1058.0,731.0 1060.2,733.2 1061.3,733.3 C1062.4,733.4 1064.9,731.8 1066.1,732.0 C1067.3,732.2 1070.8,733.7 1072.0,734.7 C1073.2,735.7 1076.3,741.0 1077.3,740.8 C1078.3,740.6 1080.6,733.7 1081.3,733.3 C1082.0,732.9 1083.3,737.4 1084.0,737.3 C1084.7,737.2 1087.2,732.3 1088.0,732.0 C1088.8,731.7 1090.8,733.4 1091.5,734.7 C1092.2,736.0 1094.1,744.4 1094.7,744.0 C1095.3,743.6 1096.6,732.6 1097.3,731.2 C1098.0,729.8 1100.6,729.3 1101.3,731.2 C1102.0,733.1 1103.3,748.4 1104.0,748.8 C1104.7,749.2 1106.8,732.4 1107.5,734.7 C1108.2,737.0 1109.9,767.4 1110.7,769.3 C1111.5,771.2 1113.8,754.0 1114.7,752.0 C1115.6,750.0 1118.0,750.6 1118.7,750.7 C1119.4,750.8 1120.7,753.3 1121.3,753.3 C1121.9,753.3 1123.4,750.0 1124.0,750.7 C1124.6,751.4 1126.0,760.7 1126.7,760.0 C1127.4,759.3 1129.9,742.4 1130.7,744.0 C1131.5,745.6 1133.1,773.7 1134.1,774.7 C1135.1,775.7 1138.9,752.0 1140.0,753.3 C1141.1,754.6 1143.2,783.6 1144.0,786.7 C1144.8,789.8 1146.5,779.5 1147.2,781.3 C1147.9,783.1 1149.6,803.1 1150.7,802.7 C1151.8,802.3 1155.6,775.5 1156.8,777.3 C1158.0,779.1 1160.5,814.3 1161.3,818.7 C1162.1,823.1 1163.4,815.4 1164.0,817.3 C1164.6,819.2 1166.1,833.8 1166.7,836.0 C1167.3,838.2 1168.6,830.6 1169.3,837.3 C1170.0,844.0 1172.1,897.0 1173.3,897.3 C1174.5,897.6 1178.8,841.2 1180.0,840.0 C1181.2,838.8 1183.3,881.7 1184.0,886.7 C1184.7,891.7 1185.5,883.1 1186.1,885.3 C1186.7,887.5 1189.0,904.8 1189.9,906.7 C1190.8,908.6 1193.6,900.4 1194.7,902.7 C1195.8,905.0 1198.7,925.5 1199.5,928.0 C1200.3,930.5 1201.4,923.7 1202.1,925.3 C1202.8,926.9 1205.1,941.5 1205.9,942.7 C1206.7,943.9 1208.5,934.0 1209.3,936.0 C1210.1,938.0 1212.3,960.3 1213.3,961.3 C1214.3,962.3 1217.7,943.2 1218.7,945.3 C1219.7,947.4 1222.6,977.5 1222.7,980.0 C1222.8,982.5 1220.0,968.0 1220.0,968.0 C1220.0,968.0 1222.1,979.3 1222.7,980.0 C1223.3,980.7 1225.3,973.1 1225.9,974.7 C1226.5,976.3 1226.9,992.1 1228.0,994.7 C1229.1,997.3 1234.8,995.5 1236.0,998.7 C1237.2,1001.9 1238.1,1022.7 1238.7,1024.0 C1239.3,1025.3 1241.2,1010.0 1241.9,1010.7 C1242.6,1011.4 1244.6,1028.9 1245.3,1030.7 C1246.0,1032.5 1247.3,1026.1 1248.0,1026.7 C1248.7,1027.3 1251.0,1034.5 1252.0,1036.0 C1253.0,1037.5 1256.2,1038.2 1257.3,1040.0 C1258.4,1041.8 1261.1,1052.1 1261.9,1052.0 C1262.7,1051.9 1263.8,1035.3 1264.5,1038.7 C1265.2,1042.1 1267.7,1081.8 1268.5,1082.7 C1269.3,1083.6 1271.3,1051.1 1272.0,1046.7 C1272.7,1042.3 1274.1,1039.0 1274.7,1042.7 C1275.3,1046.4 1277.2,1077.5 1277.9,1080.0 C1278.6,1082.5 1280.5,1064.4 1281.3,1065.3 C1282.1,1066.2 1284.6,1085.8 1285.3,1088.0 C1286.0,1090.2 1287.3,1081.6 1288.0,1085.3 C1288.7,1089.0 1290.9,1120.3 1292.0,1121.3 C1293.1,1122.3 1296.9,1095.4 1297.9,1094.7 C1298.9,1094.0 1300.6,1112.9 1301.3,1114.7 C1302.0,1116.5 1303.6,1110.3 1304.5,1110.7 C1305.4,1111.1 1308.2,1118.3 1309.3,1118.7 C1310.4,1119.1 1313.1,1112.8 1314.1,1114.7 C1315.1,1116.6 1317.9,1134.4 1318.7,1136.0 C1319.5,1137.6 1320.7,1126.5 1321.3,1129.3 C1321.9,1132.1 1323.5,1158.2 1324.5,1161.3 C1325.5,1164.4 1329.3,1160.1 1330.7,1157.3 C1332.1,1154.5 1336.1,1138.3 1337.3,1136.0 C1338.5,1133.7 1340.6,1137.4 1341.3,1136.5 C1342.0,1135.6 1343.3,1127.0 1344.0,1128.0 C1344.7,1129.0 1346.5,1145.5 1347.5,1145.3 C1348.5,1145.1 1351.9,1125.7 1353.3,1125.9 C1354.7,1126.1 1358.8,1141.8 1360.0,1146.7 C1361.2,1151.6 1362.6,1166.4 1364.0,1170.7 C1365.4,1175.0 1371.2,1187.3 1372.8,1186.1 C1374.4,1184.9 1377.0,1161.2 1378.1,1159.5 C1379.2,1157.8 1381.8,1165.8 1382.7,1170.7 C1383.6,1175.6 1385.8,1200.6 1386.7,1204.0 C1387.6,1207.4 1389.9,1203.2 1390.7,1201.3 C1391.5,1199.4 1393.2,1188.2 1394.1,1186.7 C1395.0,1185.2 1397.4,1184.6 1398.7,1188.0 C1400.0,1191.4 1404.3,1216.0 1405.9,1217.3 C1407.5,1218.6 1412.0,1202.0 1413.3,1200.0 C1414.6,1198.0 1416.1,1197.0 1417.3,1199.2 C1418.5,1201.4 1422.7,1216.2 1424.0,1220.0 C1425.3,1223.8 1428.4,1232.7 1429.3,1233.3 C1430.2,1233.9 1431.6,1225.2 1432.5,1225.3 C1433.4,1225.4 1436.5,1235.5 1437.9,1233.9 C1439.3,1232.3 1443.7,1210.8 1445.3,1211.2 C1446.9,1211.6 1450.7,1235.7 1452.0,1237.9 C1453.3,1240.1 1456.0,1232.3 1457.3,1231.5 C1458.6,1230.7 1462.4,1230.5 1464.0,1230.7 C1465.6,1230.9 1470.4,1233.2 1472.0,1233.3 C1473.6,1233.4 1476.6,1231.4 1478.7,1231.5 C1480.8,1231.6 1488.6,1234.4 1490.7,1234.1 C1492.8,1233.8 1496.5,1228.6 1498.1,1228.8 C1499.7,1229.0 1503.6,1235.6 1505.3,1236.0 C1507.0,1236.4 1511.2,1232.5 1513.3,1232.5 C1515.4,1232.5 1522.1,1235.6 1524.0,1236.0 C1525.9,1236.4 1529.1,1236.6 1530.7,1236.0 C1532.3,1235.4 1536.9,1231.2 1538.7,1230.7 C1540.5,1230.2 1544.2,1230.6 1546.7,1231.5 C1549.2,1232.4 1558.5,1238.3 1561.3,1238.7 C1564.1,1239.1 1570.1,1234.6 1572.0,1234.7 C1573.9,1234.8 1575.9,1239.7 1578.7,1239.5 C1581.5,1239.3 1594.1,1233.4 1597.3,1233.3 C1600.5,1233.2 1603.9,1238.1 1608.0,1238.7 C1612.1,1239.3 1630.7,1239.0 1634.7,1238.7 C1638.7,1238.4 1641.2,1236.3 1644.0,1236.0 C1646.8,1235.7 1653.8,1235.9 1660.0,1236.0 C1666.2,1236.1 1695.6,1236.9 1700,1237" fill="none" stroke="#6868f0" stroke-width="1.8" stroke-linejoin="round" stroke-linecap="round"/>
<line x1="1454.7" y1="1162.7" x2="1454.7" y2="1263" stroke="#1fb56a" stroke-width="2.2" stroke-dasharray="5 3"/>
<line x1="1049.5" y1="1011.0" x2="1104" y2="1011.0" stroke="#a9cbea" stroke-width="2.1"/>
<line x1="1152" y1="1011.0" x2="1220" y2="1011.0" stroke="#a9cbea" stroke-width="2.1"/>
<path d="M1043.5,1011 l9,-3.5 l0,7 z" fill="#4a90d0"/>
<path d="M1226,1011 l-9,-3.5 l0,7 z" fill="#4a90d0"/>
<text x="1114" y="1016" font-family='"Liberation Serif", serif' font-style="italic" font-size="21" fill="#333" stroke="#333" stroke-width="0.5">d<tspan font-size="13.5" dy="6" font-style="normal" font-weight="bold" letter-spacing="0.6">1/2</tspan></text>
<text x="1034.9" y="1300" font-family='"Liberation Sans", sans-serif' font-size="23.8" fill="#222" text-anchor="start" textLength="13.3" lengthAdjust="spacingAndGlyphs" stroke="#222" stroke-width="0.6">0</text>
<text x="1120.7" y="1300" font-family='"Liberation Sans", sans-serif' font-size="23.8" fill="#222" text-anchor="start" textLength="26.6" lengthAdjust="spacingAndGlyphs" stroke="#222" stroke-width="0.6">50</text>
<text x="1206.6" y="1300" font-family='"Liberation Sans", sans-serif' font-size="23.8" fill="#222" text-anchor="start" textLength="39.6" lengthAdjust="spacingAndGlyphs" stroke="#222" stroke-width="0.6">100</text>
<text x="1298.2" y="1300" font-family='"Liberation Sans", sans-serif' font-size="23.8" fill="#222" text-anchor="start" textLength="39.6" lengthAdjust="spacingAndGlyphs" stroke="#222" stroke-width="0.6">150</text>
<text x="1390.2" y="1300" font-family='"Liberation Sans", sans-serif' font-size="23.8" fill="#222" text-anchor="start" textLength="39.6" lengthAdjust="spacingAndGlyphs" stroke="#222" stroke-width="0.6">200</text>
<text x="1481.2" y="1300" font-family='"Liberation Sans", sans-serif' font-size="23.8" fill="#222" text-anchor="start" textLength="39.6" lengthAdjust="spacingAndGlyphs" stroke="#222" stroke-width="0.6">250</text>
<text x="1572.7" y="1300" font-family='"Liberation Sans", sans-serif' font-size="23.8" fill="#222" text-anchor="start" textLength="39.6" lengthAdjust="spacingAndGlyphs" stroke="#222" stroke-width="0.6">300</text>
<text x="1012.8" y="739.3000000000001" font-family='"Liberation Serif", serif' font-size="26" fill="#222" text-anchor="start" textLength="13" lengthAdjust="spacingAndGlyphs" stroke="#222" stroke-width="0.5">1</text>
<text x="990.3" y="993.6" font-family='"Liberation Serif", serif' font-size="26" fill="#222" text-anchor="start" textLength="35.5" lengthAdjust="spacingAndGlyphs" stroke="#222" stroke-width="0.5">0.5</text>
<text x="1014.3" y="1247.1" font-family='"Liberation Serif", serif' font-size="26" fill="#222" text-anchor="start" textLength="11.5" lengthAdjust="spacingAndGlyphs" stroke="#222" stroke-width="0.5">0</text>
<text x="1188.2" y="1342.5" font-family='"Liberation Sans", sans-serif' font-size="26.5" fill="#222" text-anchor="start" textLength="366.5" lengthAdjust="spacingAndGlyphs" stroke="#222" stroke-width="0.8">Distance from the tip end [µm]</text>
<text transform="translate(970.7,1196.7) rotate(-90)" font-family='"Liberation Sans", sans-serif' font-size="32" fill="#111" stroke="#111" stroke-width="0.6" textLength="420.0" lengthAdjust="spacingAndGlyphs">intensity (normalized to max.)</text>
<text x="945" y="735.5" font-family='"Liberation Sans", sans-serif' font-size="44" fill="#111" text-anchor="start" textLength="55.5" lengthAdjust="spacingAndGlyphs" stroke="#111" stroke-width="0.4">(d)</text>
<text x="1207.5" y="1228.5" font-family='"Liberation Sans", sans-serif' font-size="19.8" fill="#ee3340" text-anchor="start" textLength="34.4" lengthAdjust="spacingAndGlyphs" stroke="#ee3340" stroke-width="0.6">100</text>
<text x="1058.4" y="1052.7" font-family='"Liberation Sans", sans-serif' font-size="17.5" fill="#303030" text-anchor="start" textLength="147.1" lengthAdjust="spacingAndGlyphs" stroke="#303030" stroke-width="0.55">~13 % of the tip</text>
<text x="1058.4" y="1079.2" font-family='"Liberation Sans", sans-serif' font-size="17.5" fill="#303030" text-anchor="start" textLength="56.2" lengthAdjust="spacingAndGlyphs" stroke="#303030" stroke-width="0.55">length</text>
<text x="1413.9" y="1122" font-family='"Liberation Sans", sans-serif' font-size="17.5" fill="#303030" text-anchor="start" textLength="97.2" lengthAdjust="spacingAndGlyphs" stroke="#303030" stroke-width="0.55">30% of the</text>
<text x="1413.9" y="1149.3" font-family='"Liberation Sans", sans-serif' font-size="17.5" fill="#303030" text-anchor="start" textLength="85.9" lengthAdjust="spacingAndGlyphs" stroke="#303030" stroke-width="0.55">tip length</text>
</g>
<g id="inset-a" clip-path="url(#clipA)">
<rect x="723.5" y="51.5" width="153.5" height="205.5" fill="#000"/>
<rect x="742" y="94" width="104" height="180" fill="url(#beamA)" filter="url(#b2)"/>
<rect x="742" y="94" width="104" height="165" fill="url(#beamAv)"/>
<path d="M756,88 L772,82 L800,76 L830,73 L852,84 L854,98 L800,146 Z" fill="#3e3e3e" filter="url(#b3)"/>
<path d="M747,84 L768,99 L790,88 L808,86 L826,94 L846,100 L799,145 Z" fill="#7c7c7c" filter="url(#b2)"/>
<path d="M764,98 L790,92 L814,100 L822,116 L801,140 L780,124 Z" fill="#cccccc" filter="url(#b2)"/>
<path d="M744,79 L797,146 L806,139 L753,85 Z" fill="#d4d4d4" filter="url(#b1)"/>
<ellipse cx="797" cy="114" rx="13" ry="17" fill="url(#glowA)" filter="url(#b1)"/>
<ellipse cx="799" cy="132" rx="8" ry="9" fill="#f2f2f2" filter="url(#b2)"/>
<g filter="url(#bs)">
<circle cx="776" cy="102" r="3" fill="#e4e4e4"/>
<circle cx="786" cy="110" r="3" fill="#eee"/>
<circle cx="812" cy="106" r="3" fill="#c4c4c4"/>
<circle cx="820" cy="114" r="2.5" fill="#a8a8a8"/>
<circle cx="764" cy="94" r="2.5" fill="#d8d8d8"/>
<circle cx="806" cy="96" r="2.5" fill="#707070"/>
<circle cx="826" cy="100" r="2.5" fill="#606060"/>
<circle cx="790" cy="98" r="2.5" fill="#8a8a8a"/>
<circle cx="836" cy="86" r="2" fill="#4a4a4a"/>
<circle cx="842" cy="72" r="1.8" fill="#333"/>
<circle cx="826" cy="78" r="2" fill="#444"/>
<circle cx="770" cy="56" r="1.5" fill="#2a2a2a"/>
<circle cx="758" cy="90" r="2.5" fill="#bbb"/>
<circle cx="770" cy="108" r="2.5" fill="#ccc"/>
</g>
<line x1="799" y1="144.5" x2="852.5" y2="97" stroke="#e8e020" stroke-width="2.4" stroke-dasharray="5 2.5"/>
</g>
<g id="inset-b" clip-path="url(#clipB)">
<rect x="623" y="767.7" width="197.3" height="206.5" fill="#000"/>
<path d="M690,812 L744,812 L772,854 L840,915 L840,1000 L603,1000 L603,915 L662,854 Z" fill="url(#wingB)" filter="url(#b10)"/>
<path d="M668,826 L716,884 L764,826 L770,856 L716,900 L662,856 Z" fill="#6c6c6c" filter="url(#b6)"/>
<rect x="674" y="850" width="90" height="150" fill="url(#beamB)" filter="url(#b6)"/>
<rect x="705" y="865" width="20" height="130" fill="#b0b0b0" opacity="0.55" filter="url(#b3)"/>
<path d="M661,764 L778,764 Q752,822 716,875 Q676,832 661,764 Z" fill="url(#tipB)" filter="url(#b1)"/>
<g filter="url(#bs)">
<circle cx="701.0" cy="784.1" r="4.5" fill="#e2e2e2" opacity="0.75"/>
<circle cx="751.8" cy="779.5" r="4.2" fill="#ececec" opacity="0.75"/>
<circle cx="689.9" cy="778.9" r="3.8" fill="#d8d8d8" opacity="0.75"/>
<circle cx="752.3" cy="781.9" r="3.2" fill="#b0b0b0" opacity="0.75"/>
<circle cx="727.5" cy="776.9" r="4.3" fill="#e2e2e2" opacity="0.75"/>
<circle cx="755.6" cy="795.2" r="2.9" fill="#e2e2e2" opacity="0.75"/>
<circle cx="726.2" cy="816.8" r="4.5" fill="#e2e2e2" opacity="0.75"/>
<circle cx="727.3" cy="823.1" r="3.6" fill="#ececec" opacity="0.75"/>
<circle cx="740.6" cy="817.1" r="4.4" fill="#a4a4a4" opacity="0.75"/>
<circle cx="737.4" cy="806.2" r="3.4" fill="#ececec" opacity="0.75"/>
<circle cx="693.3" cy="786.4" r="4.8" fill="#e2e2e2" opacity="0.75"/>
<circle cx="726.6" cy="814.0" r="5.1" fill="#b0b0b0" opacity="0.75"/>
<circle cx="713.8" cy="820.7" r="2.7" fill="#ececec" opacity="0.75"/>
<circle cx="710.6" cy="832.6" r="3.0" fill="#a4a4a4" opacity="0.75"/>
<circle cx="711.0" cy="849.0" r="2.7" fill="#ececec" opacity="0.75"/>
<circle cx="726.4" cy="842.0" r="3.4" fill="#b0b0b0" opacity="0.75"/>
<circle cx="703.7" cy="811.7" r="4.9" fill="#e2e2e2" opacity="0.75"/>
<circle cx="716.4" cy="825.1" r="2.7" fill="#b0b0b0" opacity="0.75"/>
<circle cx="699.6" cy="818.2" r="4.5" fill="#a4a4a4" opacity="0.75"/>
<circle cx="697.0" cy="802.9" r="4.5" fill="#e2e2e2" opacity="0.75"/>
<circle cx="730.3" cy="811.5" r="3.2" fill="#9c9c9c" opacity="0.75"/>
<circle cx="681.2" cy="791.8" r="3.7" fill="#a4a4a4" opacity="0.75"/>
<circle cx="724.0" cy="842.7" r="5.0" fill="#ececec" opacity="0.75"/>
<circle cx="696.4" cy="805.2" r="3.6" fill="#a4a4a4" opacity="0.75"/>
<circle cx="686.0" cy="790.6" r="3.2" fill="#a4a4a4" opacity="0.75"/>
<circle cx="752.8" cy="786.6" r="3.3" fill="#d8d8d8" opacity="0.75"/>
<circle cx="710.7" cy="801.5" r="4.2" fill="#d8d8d8" opacity="0.75"/>
<circle cx="738.4" cy="813.2" r="4.4" fill="#b0b0b0" opacity="0.75"/>
<circle cx="743.5" cy="808.5" r="5.1" fill="#b0b0b0" opacity="0.75"/>
<circle cx="749.4" cy="803.4" r="3.7" fill="#e2e2e2" opacity="0.75"/>
<circle cx="717.1" cy="804.0" r="3.1" fill="#d8d8d8" opacity="0.75"/>
<circle cx="712.9" cy="780.8" r="4.3" fill="#e2e2e2" opacity="0.75"/>
<circle cx="730.6" cy="783.9" r="3.3" fill="#9c9c9c" opacity="0.75"/>
<circle cx="729.4" cy="809.9" r="2.8" fill="#a4a4a4" opacity="0.75"/>
<circle cx="717.4" cy="778.9" r="2.8" fill="#9c9c9c" opacity="0.75"/>
</g>
<path d="M686,838 Q702,862 716,874 Q732,856 746,832 Q728,850 716,856 Q700,852 686,838 Z" fill="#fff" filter="url(#b2)"/>
<path d="M700,858 L716,874 L730,858 Q716,866 700,858 Z" fill="#fff" filter="url(#b1)"/>
<path d="M718,877 Q752,826 780.5,767" fill="none" stroke="#e8e020" stroke-width="2.4" stroke-dasharray="5 2.5"/>
</g>
<g id="inset-c" clip-path="url(#clipC)">
<rect x="1477.6" y="48.5" width="146" height="254.2" fill="#000"/>
<ellipse cx="1538" cy="289.4" rx="82.5" ry="69.3" fill="url(#glowW)"/>
<ellipse cx="1538" cy="270.4" rx="27.72" ry="27.72" fill="url(#glowC)" filter="url(#b3)"/>
<path d="M1495.7,45.5 L1496.6,56.5 L1497.5,67.1 L1498.5,77.5 L1499.4,87.7 L1500.4,97.5 L1501.3,107.1 L1502.3,116.4 L1503.3,125.4 L1504.3,134.1 L1505.3,142.6 L1506.3,150.8 L1507.3,158.7 L1508.3,166.3 L1509.3,173.6 L1510.3,180.7 L1511.3,187.5 L1512.4,194.0 L1513.4,200.3 L1514.5,206.2 L1515.5,211.9 L1516.6,217.3 L1517.6,222.5 L1518.7,227.3 L1519.8,231.9 L1520.9,236.2 L1522.0,240.2 L1523.1,244.0 L1524.2,247.4 L1525.3,250.6 L1526.4,253.5 L1527.6,256.2 L1528.7,258.5 L1529.8,260.6 L1531.0,262.4 L1532.1,263.9 L1533.3,265.2 L1534.5,266.2 L1535.6,266.8 L1536.8,267.3 L1538.0,267.4 L1539.2,267.3 L1540.4,266.8 L1541.6,266.2 L1542.8,265.2 L1544.0,263.9 L1545.3,262.4 L1546.5,260.6 L1547.7,258.5 L1549.0,256.2 L1550.2,253.5 L1551.5,250.6 L1552.8,247.4 L1554.0,244.0 L1555.3,240.2 L1556.6,236.2 L1557.9,231.9 L1559.2,227.3 L1560.5,222.5 L1561.8,217.3 L1563.1,211.9 L1564.4,206.2 L1565.8,200.3 L1567.1,194.0 L1568.5,187.5 L1569.8,180.7 L1571.2,173.6 L1572.5,166.3 L1573.9,158.7 L1575.3,150.8 L1576.7,142.6 L1578.1,134.1 L1579.5,125.4 L1580.9,116.4 L1582.3,107.1 L1583.7,97.5 L1585.1,87.7 L1586.5,77.5 L1588.0,67.1 L1589.4,56.5 L1590.9,45.5 Z" fill="url(#tipC)" stroke="url(#edgeC)" stroke-width="1.5" filter="url(#b1)"/>
<g filter="url(#bs2)">
<circle cx="1517" cy="55" r="4.5" fill="#8a8a8a"/>
<circle cx="1549" cy="56" r="3.5" fill="#777"/>
<circle cx="1586" cy="61" r="4" fill="#6a6a6a"/>
<circle cx="1524" cy="73" r="4" fill="#666"/>
<circle cx="1545" cy="85" r="5" fill="#8c8c8c"/>
<circle cx="1567" cy="86" r="6.5" fill="#d0d0d0"/>
<circle cx="1559" cy="106" r="5.5" fill="#aaa"/>
<circle cx="1520" cy="130" r="4" fill="#5a5a5a"/>
<circle cx="1530" cy="150" r="4.5" fill="#999"/>
<circle cx="1516" cy="168" r="3.5" fill="#777"/>
<circle cx="1552" cy="174" r="3.5" fill="#666"/>
<circle cx="1535" cy="185" r="5.5" fill="#ccc"/>
<circle cx="1562" cy="140" r="3.5" fill="#555"/>
<circle cx="1502" cy="98" r="3" fill="#666"/>
<circle cx="1581" cy="125" r="3" fill="#666"/>
<circle cx="1541" cy="227" r="3" fill="#555"/>
<circle cx="1512" cy="112" r="3.5" fill="#4a4a4a"/>
<circle cx="1560" cy="62" r="3" fill="#555"/>
<circle cx="1500" cy="68" r="3" fill="#555"/>
<circle cx="1575" cy="75" r="3" fill="#444"/>
<circle cx="1505" cy="120" r="4" fill="#505050"/>
<circle cx="1512" cy="146" r="4" fill="#484848"/>
<circle cx="1548" cy="130" r="4.5" fill="#4a4a4a"/>
<circle cx="1525" cy="206" r="3.5" fill="#555"/>
<circle cx="1543" cy="200" r="3.5" fill="#4a4a4a"/>
<circle cx="1553" cy="216" r="3" fill="#484848"/>
<circle cx="1521" cy="98" r="4" fill="#484848"/>
<circle cx="1571" cy="110" r="3.5" fill="#4a4a4a"/>
<circle cx="1537" cy="110" r="3.5" fill="#505050"/>
<circle cx="1508" cy="160" r="3" fill="#5a5a5a"/>
<circle cx="1560" cy="160" r="4" fill="#4a4a4a"/>
<circle cx="1545" cy="155" r="3.5" fill="#444"/>
<circle cx="1530" cy="240" r="3" fill="#555"/>
</g>
<path d="M1516.2,215.4 L1517.2,220.5 L1518.3,225.3 L1519.3,229.8 L1520.4,234.1 L1521.4,238.1 L1522.5,241.9 L1523.5,245.4 L1524.6,248.7 L1525.7,251.7 L1526.8,254.4 L1527.9,256.9 L1529.0,259.1 L1530.1,261.0 L1531.2,262.7 L1532.3,264.1 L1533.4,265.3 L1534.6,266.2 L1535.7,266.9 L1536.9,267.3 L1538.0,267.4 L1539.3,267.2 L1540.7,266.7 L1542.0,265.8 L1543.4,264.6 L1544.8,263.1 L1546.1,261.1 L1547.5,258.9 L1548.9,256.3 L1550.3,253.3 L1551.7,250.0 L1553.1,246.4 L1554.6,242.4" fill="none" stroke="#fff" stroke-width="2.1" stroke-linecap="round" filter="url(#b1)"/>
<circle cx="1538" cy="264.4" r="5" fill="#fff" filter="url(#b2)"/>
<path d="M1539.5,267.9 L1540.7,267.8 L1541.8,267.4 L1543.0,266.7 L1544.2,265.8 L1545.4,264.6 L1546.6,263.1 L1547.8,261.4 L1549.0,259.4 L1550.2,257.2 L1551.4,254.7 L1552.7,251.9 L1553.9,248.9 L1555.1,245.6 L1556.4,242.0 L1557.6,238.1 L1558.9,234.1 L1560.2,229.7 L1561.4,225.1 L1562.7,220.2 L1564.0,215.0 L1565.3,209.6 L1566.6,203.9 L1567.9,198.0 L1569.2,191.7 L1570.5,185.3 L1571.8,178.5 L1573.2,171.5 L1574.5,164.2 L1575.8,156.7 L1577.2,148.9" fill="none" stroke="#e8e020" stroke-width="2.6" stroke-dasharray="4.5 2.5"/>
</g>
<g id="inset-d" clip-path="url(#clipD)">
<rect x="1488" y="732.2" width="133.3" height="229.1" fill="#000"/>
<ellipse cx="1550.6" cy="950.3" rx="77.5" ry="65.10000000000001" fill="url(#glowW)"/>
<ellipse cx="1550.6" cy="931.3" rx="26.04" ry="26.04" fill="url(#glowC)" filter="url(#b3)"/>
<path d="M1517.3,729.2 L1518.1,739.0 L1519.0,748.6 L1519.9,757.9 L1520.8,767.0 L1521.6,775.9 L1522.5,784.5 L1523.4,792.8 L1524.3,800.9 L1525.2,808.7 L1526.0,816.3 L1526.9,823.6 L1527.8,830.7 L1528.7,837.6 L1529.5,844.2 L1530.4,850.5 L1531.3,856.6 L1532.2,862.5 L1533.0,868.1 L1533.9,873.4 L1534.8,878.5 L1535.6,883.4 L1536.5,888.0 L1537.4,892.3 L1538.2,896.4 L1539.1,900.3 L1539.9,903.9 L1540.7,907.3 L1541.6,910.4 L1542.4,913.2 L1543.2,915.9 L1544.1,918.2 L1544.9,920.3 L1545.7,922.2 L1546.4,923.8 L1547.2,925.2 L1548.0,926.3 L1548.7,927.2 L1549.4,927.8 L1550.1,928.2 L1550.6,928.3 L1551.2,928.2 L1551.8,927.8 L1552.5,927.2 L1553.3,926.3 L1554.1,925.2 L1554.9,923.8 L1555.8,922.2 L1556.6,920.3 L1557.5,918.2 L1558.4,915.9 L1559.3,913.2 L1560.2,910.4 L1561.2,907.3 L1562.1,903.9 L1563.1,900.3 L1564.1,896.4 L1565.1,892.3 L1566.1,888.0 L1567.1,883.4 L1568.2,878.5 L1569.2,873.4 L1570.3,868.1 L1571.3,862.5 L1572.4,856.6 L1573.5,850.5 L1574.6,844.2 L1575.7,837.6 L1576.8,830.7 L1577.9,823.6 L1579.0,816.3 L1580.2,808.7 L1581.3,800.9 L1582.5,792.8 L1583.7,784.5 L1584.8,775.9 L1586.0,767.0 L1587.2,757.9 L1588.4,748.6 L1589.6,739.0 L1590.8,729.2 Z" fill="url(#tipC)" stroke="url(#edgeC)" stroke-width="1.5" filter="url(#b1)"/>
<g filter="url(#bs)">
<circle cx="1555.5" cy="804.5" r="2.7" fill="#4a4a4a"/>
<circle cx="1569.1" cy="804.4" r="1.7" fill="#7c7c7c"/>
<circle cx="1557.8" cy="807.9" r="1.7" fill="#4a4a4a"/>
<circle cx="1532.0" cy="782.6" r="2.6" fill="#999"/>
<circle cx="1556.0" cy="831.3" r="2.0" fill="#4a4a4a"/>
<circle cx="1556.6" cy="834.1" r="1.7" fill="#5a5a5a"/>
<circle cx="1538.7" cy="860.3" r="1.5" fill="#707070"/>
<circle cx="1563.6" cy="826.1" r="1.9" fill="#7c7c7c"/>
<circle cx="1552.3" cy="861.8" r="2.3" fill="#4a4a4a"/>
<circle cx="1528.3" cy="738.7" r="2.4" fill="#4a4a4a"/>
<circle cx="1561.8" cy="884.7" r="2.6" fill="#999"/>
<circle cx="1567.0" cy="775.3" r="2.2" fill="#5a5a5a"/>
<circle cx="1569.6" cy="748.3" r="2.0" fill="#8a8a8a"/>
<circle cx="1575.2" cy="794.8" r="2.6" fill="#5a5a5a"/>
<circle cx="1576.7" cy="769.4" r="1.6" fill="#4a4a4a"/>
<circle cx="1549.1" cy="882.1" r="1.6" fill="#999"/>
<circle cx="1563.0" cy="767.2" r="1.9" fill="#8a8a8a"/>
<circle cx="1576.5" cy="786.9" r="2.5" fill="#5a5a5a"/>
<circle cx="1565.4" cy="757.8" r="1.5" fill="#4a4a4a"/>
<circle cx="1541.7" cy="855.2" r="2.2" fill="#4a4a4a"/>
<circle cx="1573.9" cy="812.8" r="2.5" fill="#4a4a4a"/>
<circle cx="1537.5" cy="832.6" r="2.0" fill="#707070"/>
<circle cx="1576.4" cy="738.1" r="2.8" fill="#7c7c7c"/>
<circle cx="1573.0" cy="782.7" r="1.8" fill="#4a4a4a"/>
<circle cx="1553.5" cy="884.4" r="2.3" fill="#5a5a5a"/>
<circle cx="1545.2" cy="883.4" r="1.8" fill="#7c7c7c"/>
<circle cx="1542.7" cy="786.4" r="1.6" fill="#5a5a5a"/>
<circle cx="1560.9" cy="768.7" r="1.5" fill="#8a8a8a"/>
<circle cx="1550.7" cy="792.6" r="2.7" fill="#4a4a4a"/>
<circle cx="1540.9" cy="860.4" r="2.0" fill="#999"/>
<circle cx="1576.7" cy="760.7" r="2.6" fill="#707070"/>
<circle cx="1540.1" cy="844.6" r="2.3" fill="#7c7c7c"/>
<circle cx="1578.3" cy="766.9" r="2.6" fill="#7c7c7c"/>
<circle cx="1526.9" cy="749.5" r="1.6" fill="#7c7c7c"/>
<circle cx="1545.4" cy="879.5" r="2.4" fill="#8a8a8a"/>
<circle cx="1572.0" cy="799.9" r="2.1" fill="#7c7c7c"/>
<circle cx="1565.8" cy="763.8" r="1.6" fill="#707070"/>
<circle cx="1559.6" cy="808.5" r="2.3" fill="#5a5a5a"/>
<circle cx="1575.1" cy="779.2" r="1.8" fill="#5a5a5a"/>
<circle cx="1548.4" cy="748.2" r="1.8" fill="#5a5a5a"/>
<circle cx="1546.1" cy="763.9" r="2.2" fill="#707070"/>
<circle cx="1532.4" cy="751.6" r="2.1" fill="#8a8a8a"/>
<circle cx="1559.5" cy="834.6" r="2.3" fill="#707070"/>
<circle cx="1569.6" cy="824.7" r="2.1" fill="#8a8a8a"/>
<circle cx="1568.8" cy="841.0" r="1.5" fill="#999"/>
<circle cx="1528.0" cy="749.0" r="1.9" fill="#707070"/>
<circle cx="1542.5" cy="884.9" r="2.2" fill="#999"/>
<circle cx="1580.1" cy="744.5" r="2.5" fill="#707070"/>
<circle cx="1565.1" cy="854.6" r="2.0" fill="#999"/>
<circle cx="1533.5" cy="807.6" r="2.6" fill="#5a5a5a"/>
<circle cx="1553.8" cy="864.9" r="2.3" fill="#4a4a4a"/>
<circle cx="1529.1" cy="793.7" r="1.6" fill="#5a5a5a"/>
<circle cx="1571.3" cy="832.0" r="2.6" fill="#999"/>
<circle cx="1575.0" cy="786.5" r="2.4" fill="#4a4a4a"/>
<circle cx="1568.5" cy="802.8" r="1.6" fill="#7c7c7c"/>
<circle cx="1560.0" cy="742.4" r="2.1" fill="#707070"/>
<circle cx="1542.4" cy="878.7" r="2.5" fill="#999"/>
<circle cx="1545.4" cy="873.3" r="1.5" fill="#8a8a8a"/>
<circle cx="1559.9" cy="759.1" r="2.2" fill="#8a8a8a"/>
<circle cx="1550.0" cy="835.0" r="2.7" fill="#8a8a8a"/>
<circle cx="1540.9" cy="797.5" r="2.3" fill="#707070"/>
<circle cx="1548.5" cy="867.4" r="2.3" fill="#8a8a8a"/>
<circle cx="1533.3" cy="768.9" r="2.0" fill="#5a5a5a"/>
<circle cx="1568.1" cy="842.5" r="1.9" fill="#707070"/>
<circle cx="1551.9" cy="754.6" r="2.7" fill="#4a4a4a"/>
<circle cx="1553.9" cy="794.2" r="2.4" fill="#999"/>
<circle cx="1566.0" cy="861.4" r="2.1" fill="#5a5a5a"/>
<circle cx="1545.1" cy="859.8" r="2.3" fill="#999"/>
<circle cx="1554.6" cy="842.2" r="1.9" fill="#7c7c7c"/>
<circle cx="1531.6" cy="740.8" r="2.1" fill="#5a5a5a"/>
</g>
<path d="M1534.4,876.3 L1535.3,881.4 L1536.2,886.2 L1537.0,890.7 L1537.9,895.0 L1538.8,899.0 L1539.6,902.8 L1540.5,906.3 L1541.4,909.6 L1542.2,912.6 L1543.1,915.3 L1543.9,917.8 L1544.7,920.0 L1545.5,921.9 L1546.3,923.6 L1547.1,925.0 L1547.9,926.2 L1548.7,927.1 L1549.4,927.8 L1550.0,928.2 L1550.6,928.3 L1551.3,928.1 L1552.1,927.6 L1552.9,926.7 L1553.9,925.5 L1554.8,924.0 L1555.8,922.0 L1556.8,919.8 L1557.9,917.2 L1559.0,914.2 L1560.1,910.9 L1561.2,907.3 L1562.3,903.3" fill="none" stroke="#fff" stroke-width="2.1" stroke-linecap="round" filter="url(#b1)"/>
<circle cx="1550.6" cy="925.3" r="5" fill="#fff" filter="url(#b2)"/>
<path d="M1552.1,928.8 L1552.6,928.7 L1553.3,928.3 L1554.0,927.7 L1554.8,926.9 L1555.5,925.8 L1556.3,924.5 L1557.2,922.9 L1558.0,921.1 L1558.9,919.0 L1559.7,916.7 L1560.6,914.2 L1561.6,911.4 L1562.5,908.4 L1563.4,905.2 L1564.4,901.7 L1565.3,897.9 L1566.3,894.0 L1567.3,889.7 L1568.3,885.3 L1569.3,880.6 L1570.4,875.6 L1571.4,870.5 L1572.4,865.0 L1573.5,859.4 L1574.5,853.5 L1575.6,847.3 L1576.7,840.9 L1577.8,834.3 L1578.9,827.4 L1580.0,820.3" fill="none" stroke="#e8e020" stroke-width="2.6" stroke-dasharray="4.5 2.5"/>
</g>
</g>
</svg></body></html>
